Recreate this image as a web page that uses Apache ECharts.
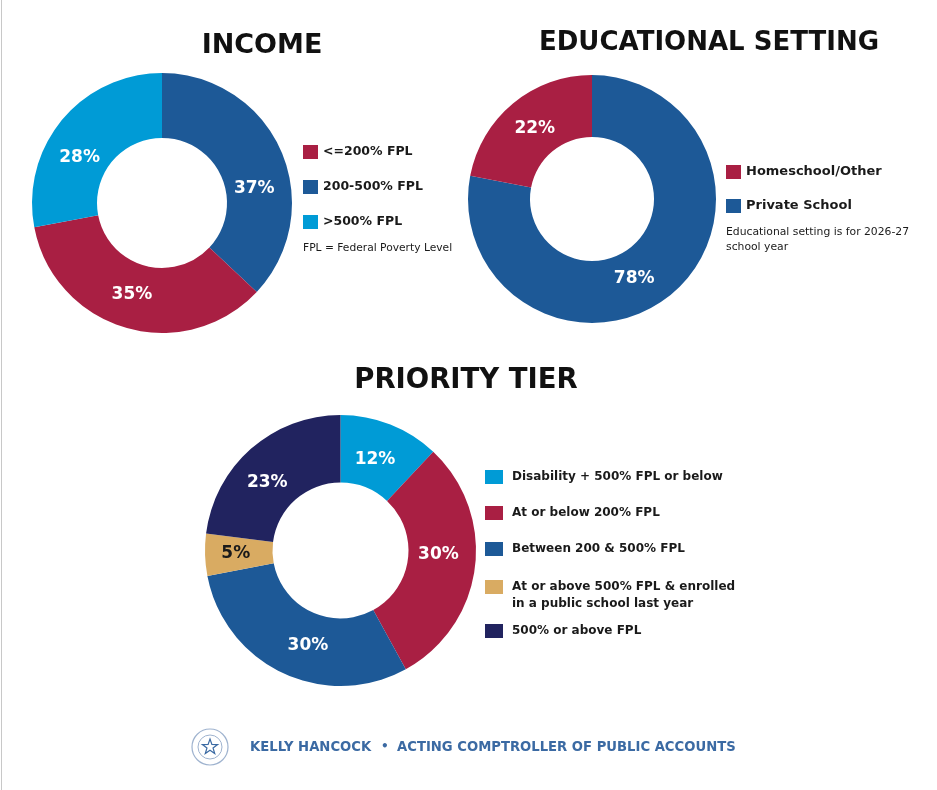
<!DOCTYPE html>
<html>
<head>
<meta charset="utf-8">
<script src="https://cdn.jsdelivr.net/npm/echarts@6/dist/echarts.min.js"></script>
<style>
  html, body { margin: 0; padding: 0; background: #fff; }
  #main { width: 937px; height: 790px; }
</style>
</head>
<body>
<div id="main"></div>
<script>
// income
var incomeNames = ['200-500% FPL', '<=200% FPL', '>500% FPL'];
var incomeValues = [37, 35, 28];
var incomeLegend = ['<=200% FPL', '200-500% FPL', '>500% FPL'];

// educational setting
var eduNames = ['Private School', 'Homeschool/Other'];
var eduValues = [78, 22];
var eduLegend = ['Homeschool/Other', 'Private School'];

// priority tier
var tierNames = [
    'Disability + 500% FPL or below',
    'At or below 200% FPL',
    'Between 200 & 500% FPL',
    'At or above 500% FPL & enrolled\nin a public school last year',
    '500% or above FPL'
];
var tierValues = [12, 30, 30, 5, 23];

var RED = '#a91f43', BLUE = '#1d5997', LBLUE = '#009bd6', NAVY = '#21235f', GOLD = '#d9ab62';
var colorOf = {
    '200-500% FPL': BLUE, '<=200% FPL': RED, '>500% FPL': LBLUE,
    'Private School': BLUE, 'Homeschool/Other': RED
};
colorOf[tierNames[0]] = LBLUE;
colorOf[tierNames[1]] = RED;
colorOf[tierNames[2]] = BLUE;
colorOf[tierNames[3]] = GOLD;
colorOf[tierNames[4]] = NAVY;

// label nudges, done with rich padding [top,right,bottom,left]
var nudge = {
    '200-500% FPL': [50, 0, 0, 0],
    '<=200% FPL': [0, 4, 10, 0],
    '>500% FPL': [38, 10, 0, 0],
    'Private School': [12, 38, 0, 0],
    'Homeschool/Other': [8, 0, 0, 8]
};
nudge[tierNames[0]] = [12, 8, 0, 0];
nudge[tierNames[1]] = [0, 12, 18, 0];
nudge[tierNames[2]] = [0, 0, 0, 24];
nudge[tierNames[4]] = [22, 8, 0, 0];

var FONT = 'DejaVu Sans';

function makeData(names, values) {
    return names.map(function (n, i) {
        return {
            name: n,
            value: values[i],
            itemStyle: { color: colorOf[n] },
            label: {
                rich: {
                    v: {
                        color: colorOf[n] === GOLD ? '#1a1a1a' : '#fff',
                        fontFamily: FONT,
                        fontWeight: 'bold',
                        fontSize: 17,
                        padding: nudge[n] || [0, 0, 0, 0]
                    }
                }
            }
        };
    });
}

function pie(center, radius, names, values) {
    return {
        type: 'pie',
        center: center,
        radius: radius,
        startAngle: 90,
        clockwise: true,
        animation: false,
        silent: true,
        itemStyle: { borderWidth: 0 },
        label: {
            show: true,
            position: 'inside',
            formatter: '{v|{c}%}'
        },
        labelLine: { show: false },
        data: makeData(names, values)
    };
}

function legend(left, top, names, gap, opt) {
    opt = opt || {};
    var lh = opt.lineHeight || 20;
    var fs = opt.fontSize || 12.5;
    var tok = {
        fontFamily: FONT,
        fontSize: fs,
        fontWeight: 600,
        color: '#1a1a1a',
        lineHeight: lh,
        padding: [0, 0, 0, opt.textPad || 0]
    };
    return {
        orient: 'vertical',
        left: left,
        top: top,
        padding: 0,
        itemWidth: opt.iconW || 15,
        itemHeight: 14,
        itemGap: gap,
        icon: 'rect',
        selectedMode: false,
        data: names,
        formatter: function (name) {
            var lines = name.split('\n').map(function (s) { return '{t|' + s + '}'; });
            // multi-line item: blank line on top so the square sits on the first line
            if (lines.length > 1) lines.unshift('{t| }');
            return lines.join('\n');
        },
        textStyle: {
            fontFamily: FONT,
            fontSize: fs,
            fontWeight: 600,
            color: '#1a1a1a',
            lineHeight: lh,
            rich: { t: tok }
        }
    };
}

function titleAt(text, x, y, size) {
    return {
        text: text,
        left: x,
        top: y,
        textAlign: 'center',
        padding: 0,
        textStyle: { fontFamily: FONT, fontWeight: 'bold', fontSize: size, color: '#111' }
    };
}

// seal star points
var star = [];
for (var k = 0; k < 10; k++) {
    var a = -Math.PI / 2 + k * Math.PI / 5;
    var rr = k % 2 ? 3.2 : 8;
    star.push([210 + rr * Math.cos(a), 747 + rr * Math.sin(a)]);
}

var tierOpt = { iconW: 18, textPad: 4, fontSize: 12 };

var chart = echarts.init(document.getElementById('main'), null, { renderer: 'canvas' });
chart.setOption({
    backgroundColor: '#fff',
    title: [
        titleAt('INCOME', 262, 32, 27),
        titleAt('EDUCATIONAL SETTING', 709, 30, 26),
        titleAt('PRIORITY TIER', 466, 367, 27.5)
    ],
    legend: [
        legend(303, 142, incomeLegend, 15),
        legend(726, 162, eduLegend, 14, { fontSize: 13 }),
        legend(485, 467, tierNames.slice(0, 3), 16, tierOpt),
        legend(485, 587 - 25.5, [tierNames[3]], 0, Object.assign({ lineHeight: 17 }, tierOpt)),
        legend(485, 621, [tierNames[4]], 0, tierOpt)
    ],
    series: [
        pie([162, 203], [65, 130], incomeNames, incomeValues),
        pie([592, 199], [62, 124], eduNames, eduValues),
        pie([340.5, 550.5], [68, 135.5], tierNames, tierValues)
    ],
    graphic: [
        { type: 'line', shape: { x1: 1.5, y1: 0, x2: 1.5, y2: 790 }, style: { stroke: '#c8c8c8', lineWidth: 1 } },
        { type: 'text', left: 303, top: 243, style: { text: 'FPL = Federal Poverty Level', font: '500 10.7px "DejaVu Sans"', fill: '#1a1a1a' } },
        { type: 'text', left: 726, top: 225, style: { text: 'Educational setting is for 2026-27\nschool year', font: '500 10.8px "DejaVu Sans"', fill: '#1a1a1a', lineHeight: 14.5 } },
        { type: 'circle', shape: { cx: 210, cy: 747, r: 18 }, style: { fill: 'none', stroke: '#9fb3cf', lineWidth: 1.2 } },
        { type: 'circle', shape: { cx: 210, cy: 747, r: 12 }, style: { fill: 'none', stroke: '#9fb3cf', lineWidth: 1 } },
        { type: 'polygon', shape: { points: star }, style: { fill: 'none', stroke: '#3b6aa3', lineWidth: 1.2 } },
        { type: 'text', left: 250, top: 741, style: { text: 'KELLY HANCOCK', font: 'bold 13.2px "DejaVu Sans"', fill: '#3b6aa3' } },
        { type: 'text', left: 381, top: 741, style: { text: '\u2022', font: 'bold 12px "DejaVu Sans"', fill: '#3b6aa3' } },
        { type: 'text', left: 397, top: 741, style: { text: 'ACTING COMPTROLLER OF PUBLIC ACCOUNTS', font: 'bold 13.2px "DejaVu Sans"', fill: '#3b6aa3' } }
    ]
});
</script>
</body>
</html>
